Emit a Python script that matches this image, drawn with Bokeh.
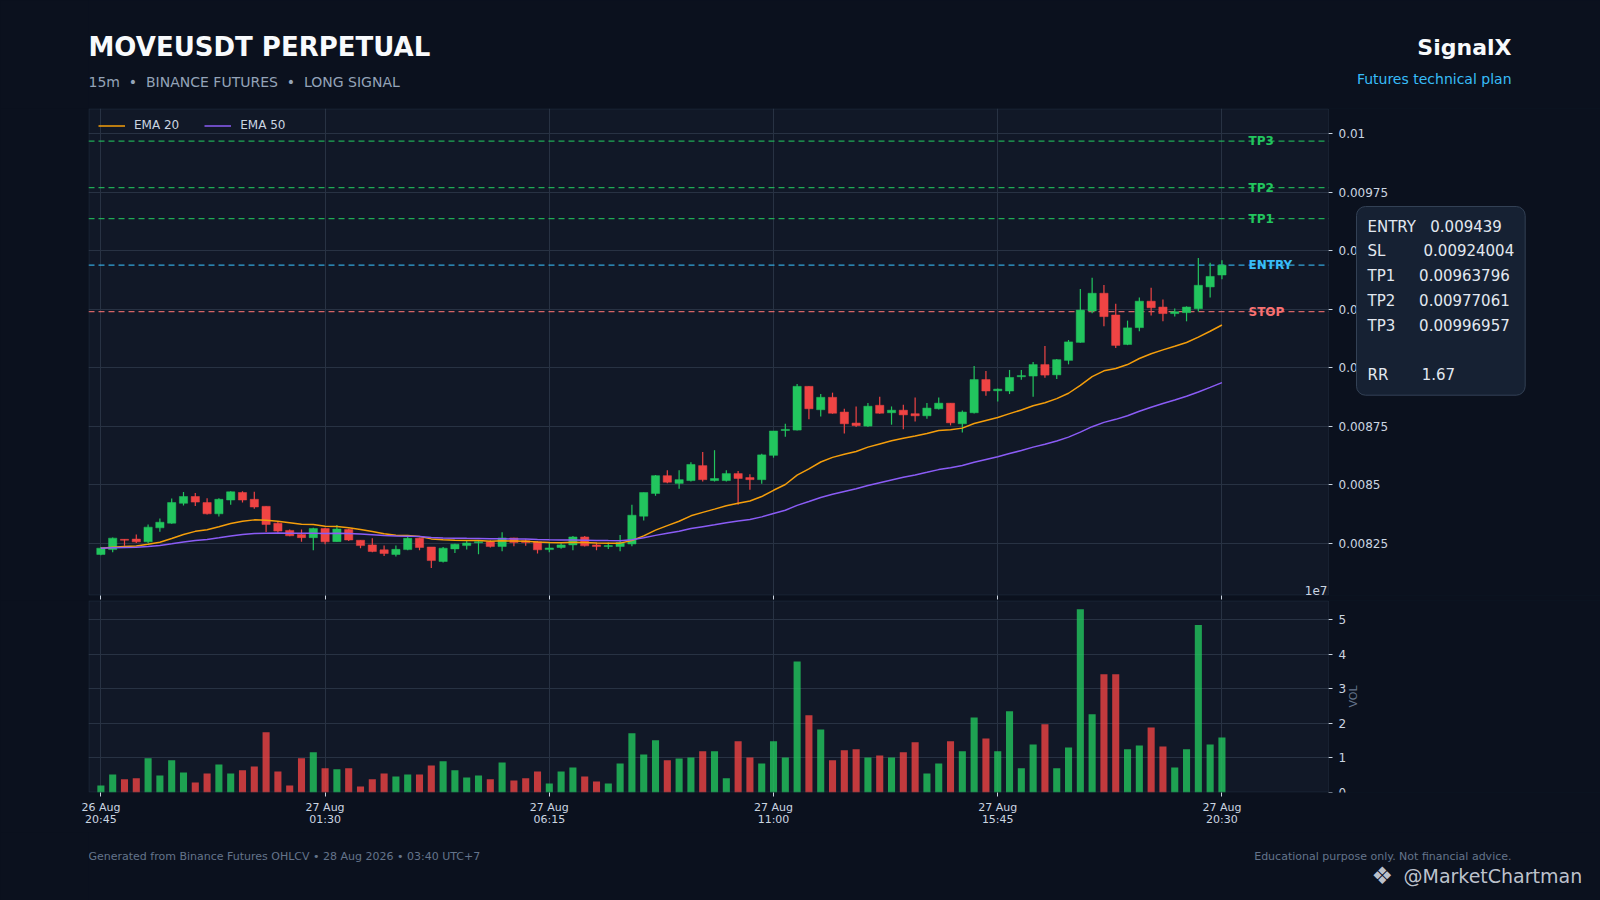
import numpy as np
import pandas as pd
from bokeh.plotting import figure
from bokeh.models import (Range1d, Label, Span, BoxAnnotation, FixedTicker, SingleIntervalTicker,
                          CustomJSTickFormatter, DatetimeTickFormatter, ColumnDataSource)
from bokeh.layouts import column
from bokeh.embed import file_html
from bokeh.resources import INLINE

# ---------------- data ----------------
start_time = "2026-08-26 20:45"
bar_minutes = 15

opens = [0.008202, 0.008223, 0.008267, 0.008268, 0.008256, 0.008316, 0.008336, 0.008421,
         0.008450, 0.008424, 0.008376, 0.008435, 0.008467, 0.008438, 0.008408, 0.008336,
         0.008305, 0.008288, 0.008274, 0.008313, 0.008257, 0.008309, 0.008263, 0.008243,
         0.008222, 0.008202, 0.008223, 0.008271, 0.008234, 0.008172, 0.008226, 0.008240,
         0.008252, 0.008257, 0.008236, 0.008273, 0.008261, 0.008256, 0.008223, 0.008232,
         0.008243, 0.008277, 0.008243, 0.008236, 0.008236, 0.008247, 0.008366, 0.008463,
         0.008539, 0.008506, 0.008518, 0.008582, 0.008518, 0.008518, 0.008548, 0.008531,
         0.008522, 0.008626, 0.008732, 0.008734, 0.008921, 0.008821, 0.008874, 0.008811,
         0.008764, 0.008751, 0.008840, 0.008808, 0.008819, 0.008804, 0.008795, 0.008825,
         0.008849, 0.008761, 0.008808, 0.008950, 0.008902, 0.008901, 0.008962, 0.008965,
         0.009014, 0.008970, 0.009032, 0.009109, 0.009243, 0.009319, 0.009226, 0.009100,
         0.009172, 0.009285, 0.009260, 0.009232, 0.009236, 0.009253, 0.009346, 0.009397]
highs = [0.008234, 0.008275, 0.008267, 0.008288, 0.008330, 0.008356, 0.008441, 0.008469,
         0.008465, 0.008443, 0.008443, 0.008472, 0.008472, 0.008470, 0.008408, 0.008342,
         0.008309, 0.008309, 0.008316, 0.008316, 0.008328, 0.008312, 0.008263, 0.008271,
         0.008240, 0.008241, 0.008281, 0.008274, 0.008234, 0.008234, 0.008248, 0.008260,
         0.008263, 0.008263, 0.008297, 0.008274, 0.008267, 0.008260, 0.008253, 0.008250,
         0.008281, 0.008281, 0.008253, 0.008253, 0.008285, 0.008415, 0.008467, 0.008542,
         0.008562, 0.008562, 0.008596, 0.008640, 0.008648, 0.008562, 0.008559, 0.008545,
         0.008633, 0.008730, 0.008761, 0.008931, 0.008921, 0.008888, 0.008894, 0.008825,
         0.008835, 0.008850, 0.008877, 0.008835, 0.008842, 0.008873, 0.008850, 0.008873,
         0.008849, 0.008818, 0.009008, 0.008987, 0.008912, 0.008991, 0.008991, 0.009025,
         0.009093, 0.009038, 0.009119, 0.009337, 0.009385, 0.009354, 0.009274, 0.009202,
         0.009301, 0.009343, 0.009292, 0.009254, 0.009263, 0.009470, 0.009449, 0.009460]
lows = [0.008199, 0.008212, 0.008239, 0.008251, 0.008250, 0.008299, 0.008333, 0.008411,
        0.008409, 0.008373, 0.008364, 0.008415, 0.008424, 0.008398, 0.008298, 0.008295,
        0.008280, 0.008257, 0.008220, 0.008246, 0.008256, 0.008260, 0.008229, 0.008212,
        0.008196, 0.008193, 0.008220, 0.008220, 0.008144, 0.008168, 0.008208, 0.008223,
        0.008203, 0.008232, 0.008216, 0.008237, 0.008239, 0.008206, 0.008212, 0.008227,
        0.008220, 0.008236, 0.008220, 0.008225, 0.008216, 0.008237, 0.008347, 0.008453,
        0.008507, 0.008483, 0.008514, 0.008514, 0.008514, 0.008514, 0.008415, 0.008479,
        0.008504, 0.008616, 0.008705, 0.008732, 0.008780, 0.008792, 0.008804, 0.008719,
        0.008747, 0.008747, 0.008804, 0.008757, 0.008737, 0.008771, 0.008782, 0.008822,
        0.008754, 0.008724, 0.008805, 0.008881, 0.008856, 0.008888, 0.008949, 0.008877,
        0.008958, 0.008952, 0.009015, 0.009107, 0.009234, 0.009178, 0.009085, 0.009097,
        0.009157, 0.009224, 0.009199, 0.009220, 0.009199, 0.009241, 0.009301, 0.009379]
closes = [0.008229, 0.008272, 0.008263, 0.008256, 0.008319, 0.008340, 0.008424, 0.008450,
          0.008426, 0.008376, 0.008438, 0.008470, 0.008435, 0.008405, 0.008330, 0.008302,
          0.008282, 0.008274, 0.008313, 0.008256, 0.008311, 0.008264, 0.008240, 0.008215,
          0.008206, 0.008224, 0.008271, 0.008232, 0.008176, 0.008229, 0.008246, 0.008251,
          0.008257, 0.008236, 0.008273, 0.008253, 0.008253, 0.008222, 0.008230, 0.008243,
          0.008277, 0.008239, 0.008236, 0.008240, 0.008253, 0.008370, 0.008467, 0.008539,
          0.008511, 0.008522, 0.008587, 0.008522, 0.008527, 0.008548, 0.008527, 0.008522,
          0.008628, 0.008730, 0.008737, 0.008921, 0.008825, 0.008874, 0.008806, 0.008761,
          0.008753, 0.008836, 0.008806, 0.008819, 0.008799, 0.008795, 0.008828, 0.008849,
          0.008765, 0.008811, 0.008950, 0.008901, 0.008909, 0.008959, 0.008967, 0.009014,
          0.008969, 0.009035, 0.009111, 0.009247, 0.009319, 0.009219, 0.009096, 0.009171,
          0.009285, 0.009257, 0.009232, 0.009240, 0.009260, 0.009353, 0.009391, 0.009439]
volume_e7 = [0.20, 0.52, 0.38, 0.41, 0.99, 0.49, 0.93, 0.58, 0.29, 0.55, 0.81, 0.55,
             0.64, 0.75, 1.74, 0.61, 0.20, 0.99, 1.16, 0.70, 0.67, 0.70, 0.17, 0.38,
             0.55, 0.46, 0.52, 0.52, 0.78, 0.90, 0.64, 0.43, 0.49, 0.38, 0.87, 0.35,
             0.41, 0.61, 0.26, 0.61, 0.72, 0.46, 0.32, 0.26, 0.84, 1.71, 1.10, 1.51,
             0.93, 0.98, 1.01, 1.19, 1.19, 0.41, 1.48, 1.01, 0.84, 1.48, 1.01, 3.79,
             2.23, 1.82, 0.93, 1.22, 1.25, 1.01, 1.07, 1.01, 1.16, 1.45, 0.55, 0.84,
             1.48, 1.19, 2.17, 1.56, 1.19, 2.35, 0.70, 1.39, 1.97, 0.70, 1.30, 5.30,
             2.26, 3.42, 3.42, 1.25, 1.36, 1.88, 1.33, 0.72, 1.25, 4.84, 1.39, 1.59]

entry = 0.009439
stop_loss = 0.00924004
tp1 = 0.00963796
tp2 = 0.00977061
tp3 = 0.00996957
risk_reward = 1.67

NB = "\u00a0"
title_text = "MOVEUSDT PERPETUAL"
subtitle_text = f"15m{NB*2}\u2022{NB*2}BINANCE FUTURES{NB*2}\u2022{NB*2}LONG SIGNAL"
brand_text = "SignalX"
brand_sub = "Futures technical plan"
footer_left = "Generated from Binance Futures OHLCV \u2022 28 Aug 2026 \u2022 03:40 UTC+7"
footer_right = "Educational purpose only. Not financial advice."
watermark_logo = "\u2756"
watermark = "@MarketChartman"

# ---------------- style ----------------
FONT = "DejaVu Sans"
PAGE_BG = "#0b111e"
PLOT_BG = "#111827"
GRID = "#283243"
EDGE = "#334155"
TICK_TXT = "#cbd5e1"
GREEN = "#22c55e"
RED = "#ef4444"
BLUE = "#38bdf8"
STOPC = "#f87171"

W, H = 1600, 900
LB = 88                      # left border
PLOT_W = 1240                # visible plot-area width
FRAME_W = W - LB             # frame runs to the page edge (room for the info box)
HEAD_H, PRICE_FRAME_H, VOL_FRAME_H = 108, 487, 192
PRICE_BOTTOM = 5
VOL_BOTTOM = 40
FOOT_H = H - HEAD_H - PRICE_FRAME_H - PRICE_BOTTOM - VOL_FRAME_H - VOL_BOTTOM

t = pd.date_range(start_time, periods=len(closes), freq=f"{bar_minutes}min")
bar_ms = bar_minutes * 60 * 1000
t_ms = t.values.astype("datetime64[ms]").astype(np.int64).astype(float)

o = np.array(opens); h = np.array(highs); l = np.array(lows); c = np.array(closes)
vol = np.array(volume_e7) * 1e7
colors = np.where(c >= o, GREEN, RED)
ema20 = pd.Series(c).ewm(span=20, adjust=False).mean().values
ema50 = pd.Series(c).ewm(span=50, adjust=False).mean().values

src = ColumnDataSource(dict(
    t=t, open=o, high=h, low=l, close=c,
    body_top=np.maximum(o, c), body_bot=np.minimum(o, c),
    color=colors, vol=vol, ema20=ema20, ema50=ema50))

PX = 105.08 * bar_ms / PLOT_W            # ms per pixel
x_start = t_ms[0] - 1.05 * bar_ms
x_plot_end = x_start + PLOT_W * PX
x_range = Range1d(x_start, x_start + FRAME_W * PX)
y_lo, y_hi = 0.0080267, 0.0101089
PPX = (y_hi - y_lo) / PRICE_FRAME_H      # price per pixel
v_hi = 5.55e7
VPX = v_hi / VOL_FRAME_H

tick_ms = list(t_ms[::19])


def style_panel(p, y0, y1, ypx):
    p.background_fill_color = PLOT_BG
    p.border_fill_color = PAGE_BG
    p.outline_line_color = None
    p.grid.grid_line_color = GRID
    p.grid.grid_line_width = 1
    for ax in p.axis:
        ax.axis_line_color = None
        ax.major_tick_line_color = TICK_TXT
        ax.major_tick_out = 4
        ax.major_tick_in = 0
        ax.minor_tick_line_color = None
        ax.major_label_text_color = TICK_TXT
        ax.major_label_text_font = FONT
    p.yaxis.fixed_location = x_plot_end
    # page background to the right of the plot area
    p.add_layout(BoxAnnotation(left=x_plot_end, fill_color=PAGE_BG, fill_alpha=1.0,
                               line_color=None, level="glyph"))
    # plot-area border
    p.add_layout(BoxAnnotation(left=x_start + 0.5 * PX, right=x_plot_end,
                               bottom=y0 + 0.5 * ypx, top=y1 - 0.5 * ypx,
                               fill_alpha=0, line_color=EDGE, line_width=1, level="guide"))


def blank(height, y_top):
    f = figure(width=W, height=height, x_range=Range1d(LB, W),
               y_range=Range1d(y_top + height, y_top),
               toolbar_location=None, output_backend="svg",
               min_border_left=LB, min_border_right=0, min_border_top=0, min_border_bottom=0,
               x_axis_location=None, y_axis_location=None)
    f.grid.visible = False
    f.outline_line_color = None
    f.background_fill_color = PAGE_BG
    f.border_fill_color = PAGE_BG
    return f

# ---------------- header ----------------
head = blank(HEAD_H, 0)
head.add_layout(Label(x=88, y=46, text=title_text, text_font=FONT, text_font_size="26px",
                      text_font_style="bold", text_color="#f8fafc", text_baseline="middle"))
head.add_layout(Label(x=88, y=81.5, text=subtitle_text, text_font=FONT, text_font_size="14px",
                      text_color="#94a3b8", text_baseline="middle"))
head.add_layout(Label(x=1511, y=47, text=brand_text, text_font=FONT, text_font_size="22px",
                      text_font_style="bold", text_color="#f8fafc", text_baseline="middle",
                      text_align="right"))
head.add_layout(Label(x=1511, y=78.5, text=brand_sub, text_font=FONT, text_font_size="14px",
                      text_color=BLUE, text_baseline="middle", text_align="right"))

# ---------------- price ----------------
p = figure(frame_width=FRAME_W, frame_height=PRICE_FRAME_H, x_axis_type="datetime",
           x_range=x_range, y_range=Range1d(y_lo, y_hi), y_axis_location="right",
           toolbar_location=None, output_backend="svg",
           min_border_left=LB, min_border_right=0, min_border_top=0,
           min_border_bottom=PRICE_BOTTOM)
style_panel(p, y_lo, y_hi, PPX)
p.xaxis.ticker = FixedTicker(ticks=tick_ms)
p.xaxis.formatter = CustomJSTickFormatter(code="return '';")
p.xaxis.major_label_standoff = 0
p.xaxis.major_label_text_font_size = "1px"
p.yaxis.ticker = SingleIntervalTicker(interval=0.00025)
p.yaxis.formatter = CustomJSTickFormatter(code="return String(parseFloat(tick.toFixed(6)));")
p.yaxis.major_label_text_font_size = "12px"
p.yaxis.major_label_standoff = 6

levels = [(tp3, "TP3", GREEN), (tp2, "TP2", GREEN), (tp1, "TP1", GREEN),
          (entry, "ENTRY", BLUE), (stop_loss, "STOP", STOPC)]
for lv, name, col in levels:
    p.add_layout(Span(location=lv, dimension="width", line_color=col, line_width=1.3,
                      line_alpha=0.85, line_dash="6 4", level="underlay"))

p.segment(x0="t", y0="low", x1="t", y1="high", color="color", line_width=1.2, source=src)
p.vbar(x="t", width=0.7 * bar_ms, top="body_top", bottom="body_bot", fill_color="color",
       line_color="color", line_width=0.5, source=src)
p.line(x="t", y="ema20", color="#f59e0b", line_width=1.5, legend_label="EMA 20", source=src)
p.line(x="t", y="ema50", color="#8b5cf6", line_width=1.5, legend_label="EMA 50", source=src)

for lv, name, col in levels:
    p.add_layout(Label(x=x_start + 1160 * PX, y=lv, text=name, text_color=col,
                       text_font=FONT, text_font_size="12px", text_font_style="bold",
                       text_baseline="middle"))

leg = p.legend[0]
leg.location = "top_left"
leg.orientation = "horizontal"
leg.background_fill_alpha = 0
leg.border_line_alpha = 0
leg.label_text_color = TICK_TXT
leg.label_text_font = FONT
leg.label_text_font_size = "12px"
leg.glyph_width = 27
leg.glyph_height = 13
leg.label_height = 13
leg.label_standoff = 9
leg.spacing = 25
leg.margin = 4
leg.padding = 6

info_lines = [f"ENTRY{NB*3}{entry}", f"SL{NB*8}{stop_loss}", f"TP1{NB*5}{tp1}",
              f"TP2{NB*5}{tp2}", f"TP3{NB*5}{tp3}", NB, f"RR{NB*7}{risk_reward}"]
p.add_layout(Label(x=x_plot_end + 28 * PX, y=y_hi - 98 * PPX,
                   text="\n".join(info_lines), text_font=FONT, text_font_size="15px",
                   text_color="#e2e8f0", text_line_height=1.377, anchor="top_left",
                   background_fill_color="#162133", background_fill_alpha=1.0,
                   border_line_color=EDGE, border_line_width=1, padding=11,
                   border_radius=9))

p.add_layout(Label(x=x_plot_end - 1 * PX, y=y_lo + 1 * PPX, text="1e7", text_font=FONT,
                   text_font_size="12px", text_color=TICK_TXT, text_align="right",
                   text_baseline="bottom"))

# ---------------- volume ----------------
v = figure(frame_width=FRAME_W, frame_height=VOL_FRAME_H, x_axis_type="datetime",
           x_range=x_range, y_range=Range1d(0, v_hi), y_axis_location="right",
           toolbar_location=None, output_backend="svg",
           min_border_left=LB, min_border_right=0, min_border_top=0,
           min_border_bottom=VOL_BOTTOM)
style_panel(v, 0, v_hi, VPX)
v.vbar(x="t", width=0.6 * bar_ms, top="vol", bottom=0, fill_color="color", fill_alpha=0.8,
       line_color=None, source=src)
v.xaxis.ticker = FixedTicker(ticks=tick_ms)
fmt = "%d %b\n%H:%M"
v.xaxis.formatter = DatetimeTickFormatter(minutes=fmt, hourmin=fmt, hours=fmt, days=fmt,
                                          minsec=fmt, seconds=fmt, months=fmt, years=fmt,
                                          strip_leading_zeros=False)
v.xaxis.major_label_text_font_size = "11px"
v.xaxis.major_label_standoff = 4
v.xaxis.major_label_text_line_height = 0.95
v.yaxis.ticker = SingleIntervalTicker(interval=1e7)
v.yaxis.formatter = CustomJSTickFormatter(code="return (tick/1e7).toFixed(0);")
v.yaxis.major_label_text_font_size = "12px"
v.yaxis.major_label_standoff = 6
v.add_layout(Label(x=x_plot_end + 25 * PX, y=v_hi / 2, text="VOL", angle=np.pi / 2,
                   text_font=FONT, text_font_size="11px", text_color="#64748b",
                   text_align="center", text_baseline="middle"))

# ---------------- footer ----------------
foot = blank(FOOT_H, H - FOOT_H)
foot.add_layout(Label(x=88, y=856, text=footer_left, text_font=FONT, text_font_size="11px",
                      text_color="#64748b", text_baseline="middle"))
foot.add_layout(Label(x=1511, y=856, text=footer_right, text_font=FONT, text_font_size="11px",
                      text_color="#64748b", text_baseline="middle", text_align="right"))
foot.add_layout(Label(x=1371, y=875, text=watermark_logo, text_font=FONT, text_font_size="24px",
                      text_color="#d5dbe3", text_alpha=0.9, text_baseline="middle"))
foot.add_layout(Label(x=1403, y=875, text=watermark, text_font=FONT, text_font_size="19px",
                      text_color="#d5dbe3", text_alpha=0.9, text_baseline="middle"))

layout = column(head, p, v, foot, spacing=0)
html = file_html(layout, INLINE, title="MOVEUSDT PERPETUAL")
html = html.replace("<head>", "<head><style>html,body{background:#0b111e;}</style>", 1)
open("out.html", "w").write(html)
